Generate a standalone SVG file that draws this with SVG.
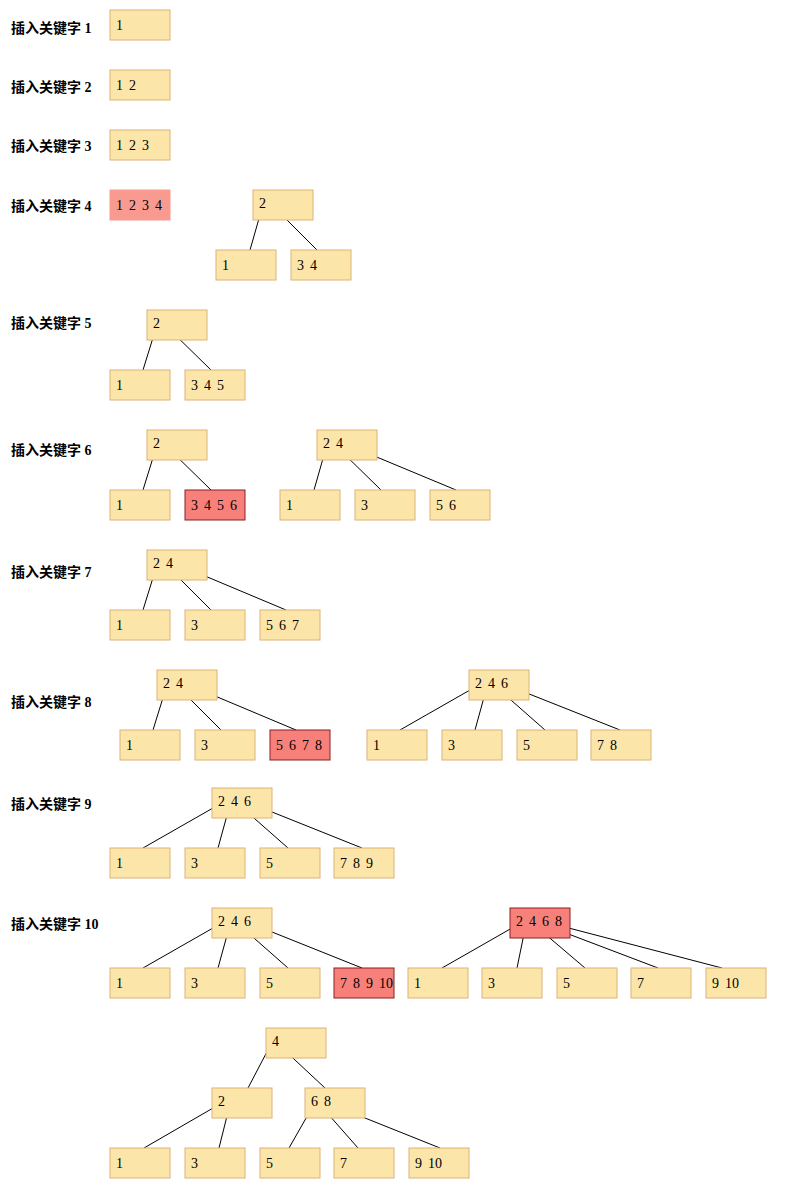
<svg xmlns="http://www.w3.org/2000/svg" width="800" height="1194" viewBox="0 0 800 1194">
<style>
.n{fill:#fce5a9;stroke:#dcb477;stroke-width:1}
.r{fill:#f99a90;stroke:#f99a90}
.d{fill:#f7807a;stroke:#8a2020}
text{font-family:'Liberation Serif','Noto Sans CJK SC',serif;font-size:14px;fill:#000}
#nodes text{word-spacing:2.5px}
.l{font-weight:bold}
#c line{stroke:#000;stroke-width:1}
</style>
<rect width="800" height="1194" fill="#fff"/>
<g id="labels">
<text class="l" x="11" y="33">插入关键字 1</text>
<text class="l" x="11" y="92">插入关键字 2</text>
<text class="l" x="11" y="151">插入关键字 3</text>
<text class="l" x="11" y="211">插入关键字 4</text>
<text class="l" x="11" y="328">插入关键字 5</text>
<text class="l" x="11" y="455">插入关键字 6</text>
<text class="l" x="11" y="577">插入关键字 7</text>
<text class="l" x="11" y="707">插入关键字 8</text>
<text class="l" x="11" y="809">插入关键字 9</text>
<text class="l" x="11" y="929">插入关键字 10</text>
</g>
<g id="c">
<line x1="262" y1="208" x2="250" y2="250"/><line x1="272" y1="205" x2="317" y2="250"/>
<line x1="156" y1="328" x2="143" y2="370"/><line x1="165" y1="325" x2="211" y2="370"/>
<line x1="156" y1="448" x2="143" y2="490"/><line x1="165" y1="445" x2="211" y2="490"/>
<line x1="326" y1="448" x2="314" y2="490"/><line x1="336" y1="446" x2="381" y2="490"/><line x1="343" y1="443" x2="456" y2="490"/>
<line x1="156" y1="568" x2="143" y2="610"/><line x1="166" y1="565" x2="211" y2="610"/><line x1="174" y1="563" x2="286" y2="610"/>
<line x1="166" y1="688" x2="153" y2="730"/><line x1="176" y1="685" x2="221" y2="730"/><line x1="184" y1="683" x2="296" y2="730"/>
<line x1="477" y1="686" x2="400" y2="730"/><line x1="486" y1="690" x2="475" y2="730"/><line x1="495" y1="686" x2="545" y2="730"/><line x1="504" y1="684" x2="620" y2="730"/>
<line x1="220" y1="804" x2="143" y2="848"/><line x1="229" y1="808" x2="218" y2="848"/><line x1="238" y1="804" x2="288" y2="848"/><line x1="247" y1="802" x2="362" y2="848"/>
<line x1="220" y1="924" x2="143" y2="968"/><line x1="229" y1="928" x2="218" y2="968"/><line x1="238" y1="924" x2="288" y2="968"/><line x1="247" y1="922" x2="362" y2="968"/>
<line x1="512" y1="928" x2="442" y2="968"/><line x1="525" y1="929" x2="517" y2="968"/><line x1="538" y1="928" x2="585" y2="968"/><line x1="550" y1="927" x2="658" y2="968"/><line x1="561" y1="926" x2="722" y2="968"/>
<line x1="270" y1="1046" x2="248" y2="1088"/><line x1="280" y1="1046" x2="325" y2="1088"/>
<line x1="220" y1="1104" x2="144" y2="1148"/><line x1="229" y1="1108" x2="219" y2="1148"/>
<line x1="313" y1="1106" x2="289" y2="1148"/><line x1="321" y1="1106" x2="358" y2="1148"/><line x1="330" y1="1104" x2="440" y2="1148"/>
</g>
<g id="nodes">
<g id="n1"><rect class="n" x="110" y="10" width="60" height="30"/><text x="116" y="30">1</text></g>
<g id="n2"><rect class="n" x="110" y="70" width="60" height="30"/><text x="116" y="90">1 2</text></g>
<g id="n3"><rect class="n" x="110" y="130" width="60" height="30"/><text x="116" y="150">1 2 3</text></g>
<g id="n4"><rect class="r" x="110" y="190" width="60" height="30"/><text x="116" y="210">1 2 3 4</text></g>
<g id="n4a"><rect class="n" x="253" y="190" width="60" height="30"/><text x="259" y="208">2</text></g>
<g id="n4b"><rect class="n" x="216" y="250" width="60" height="30"/><text x="222" y="270">1</text></g>
<g id="n4c"><rect class="n" x="291" y="250" width="60" height="30"/><text x="297" y="270">3 4</text></g>
<g id="n5a"><rect class="n" x="147" y="310" width="60" height="30"/><text x="153" y="328">2</text></g>
<g id="n5b"><rect class="n" x="110" y="370" width="60" height="30"/><text x="116" y="390">1</text></g>
<g id="n5c"><rect class="n" x="185" y="370" width="60" height="30"/><text x="191" y="390">3 4 5</text></g>
<g id="n6a"><rect class="n" x="147" y="430" width="60" height="30"/><text x="153" y="448">2</text></g>
<g id="n6b"><rect class="n" x="110" y="490" width="60" height="30"/><text x="116" y="510">1</text></g>
<g id="n6c"><rect class="d" x="185" y="490" width="60" height="30"/><text x="191" y="510">3 4 5 6</text></g>
<g id="n6d"><rect class="n" x="317" y="430" width="60" height="30"/><text x="323" y="448">2 4</text></g>
<g id="n6e"><rect class="n" x="280" y="490" width="60" height="30"/><text x="286" y="510">1</text></g>
<g id="n6f"><rect class="n" x="355" y="490" width="60" height="30"/><text x="361" y="510">3</text></g>
<g id="n6g"><rect class="n" x="430" y="490" width="60" height="30"/><text x="436" y="510">5 6</text></g>
<g id="n7a"><rect class="n" x="147" y="550" width="60" height="30"/><text x="153" y="568">2 4</text></g>
<g id="n7b"><rect class="n" x="110" y="610" width="60" height="30"/><text x="116" y="630">1</text></g>
<g id="n7c"><rect class="n" x="185" y="610" width="60" height="30"/><text x="191" y="630">3</text></g>
<g id="n7d"><rect class="n" x="260" y="610" width="60" height="30"/><text x="266" y="630">5 6 7</text></g>
<g id="n8a"><rect class="n" x="157" y="670" width="60" height="30"/><text x="163" y="688">2 4</text></g>
<g id="n8b"><rect class="n" x="120" y="730" width="60" height="30"/><text x="126" y="750">1</text></g>
<g id="n8c"><rect class="n" x="195" y="730" width="60" height="30"/><text x="201" y="750">3</text></g>
<g id="n8d"><rect class="d" x="270" y="730" width="60" height="30"/><text x="276" y="750">5 6 7 8</text></g>
<g id="n8e"><rect class="n" x="469" y="670" width="60" height="30"/><text x="475" y="688">2 4 6</text></g>
<g id="n8f"><rect class="n" x="367" y="730" width="60" height="30"/><text x="373" y="750">1</text></g>
<g id="n8g"><rect class="n" x="442" y="730" width="60" height="30"/><text x="448" y="750">3</text></g>
<g id="n8h"><rect class="n" x="517" y="730" width="60" height="30"/><text x="523" y="750">5</text></g>
<g id="n8i"><rect class="n" x="591" y="730" width="60" height="30"/><text x="597" y="750">7 8</text></g>
<g id="n9a"><rect class="n" x="212" y="788" width="60" height="30"/><text x="218" y="806">2 4 6</text></g>
<g id="n9b"><rect class="n" x="110" y="848" width="60" height="30"/><text x="116" y="868">1</text></g>
<g id="n9c"><rect class="n" x="185" y="848" width="60" height="30"/><text x="191" y="868">3</text></g>
<g id="n9d"><rect class="n" x="260" y="848" width="60" height="30"/><text x="266" y="868">5</text></g>
<g id="n9e"><rect class="n" x="334" y="848" width="60" height="30"/><text x="340" y="868">7 8 9</text></g>
<g id="n10a"><rect class="n" x="212" y="908" width="60" height="30"/><text x="218" y="926">2 4 6</text></g>
<g id="n10b"><rect class="n" x="110" y="968" width="60" height="30"/><text x="116" y="988">1</text></g>
<g id="n10c"><rect class="n" x="185" y="968" width="60" height="30"/><text x="191" y="988">3</text></g>
<g id="n10d"><rect class="n" x="260" y="968" width="60" height="30"/><text x="266" y="988">5</text></g>
<g id="n10e"><rect class="d" x="334" y="968" width="60" height="30"/><text x="340" y="988">7 8 9 10</text></g>
<g id="n10f"><rect class="d" x="510" y="908" width="60" height="30"/><text x="516" y="926">2 4 6 8</text></g>
<g id="n10g"><rect class="n" x="408" y="968" width="60" height="30"/><text x="414" y="988">1</text></g>
<g id="n10h"><rect class="n" x="482" y="968" width="60" height="30"/><text x="488" y="988">3</text></g>
<g id="n10i"><rect class="n" x="557" y="968" width="60" height="30"/><text x="563" y="988">5</text></g>
<g id="n10j"><rect class="n" x="631" y="968" width="60" height="30"/><text x="637" y="988">7</text></g>
<g id="n10k"><rect class="n" x="706" y="968" width="60" height="30"/><text x="712" y="988">9 10</text></g>
<g id="n11a"><rect class="n" x="266" y="1028" width="60" height="30"/><text x="272" y="1046">4</text></g>
<g id="n11b"><rect class="n" x="212" y="1088" width="60" height="30"/><text x="218" y="1106">2</text></g>
<g id="n11c"><rect class="n" x="305" y="1088" width="60" height="30"/><text x="311" y="1106">6 8</text></g>
<g id="n11d"><rect class="n" x="110" y="1148" width="60" height="30"/><text x="116" y="1168">1</text></g>
<g id="n11e"><rect class="n" x="185" y="1148" width="60" height="30"/><text x="191" y="1168">3</text></g>
<g id="n11f"><rect class="n" x="260" y="1148" width="60" height="30"/><text x="266" y="1168">5</text></g>
<g id="n11g"><rect class="n" x="334" y="1148" width="60" height="30"/><text x="340" y="1168">7</text></g>
<g id="n11h"><rect class="n" x="409" y="1148" width="60" height="30"/><text x="415" y="1168">9 10</text></g>
</g>
</svg>
